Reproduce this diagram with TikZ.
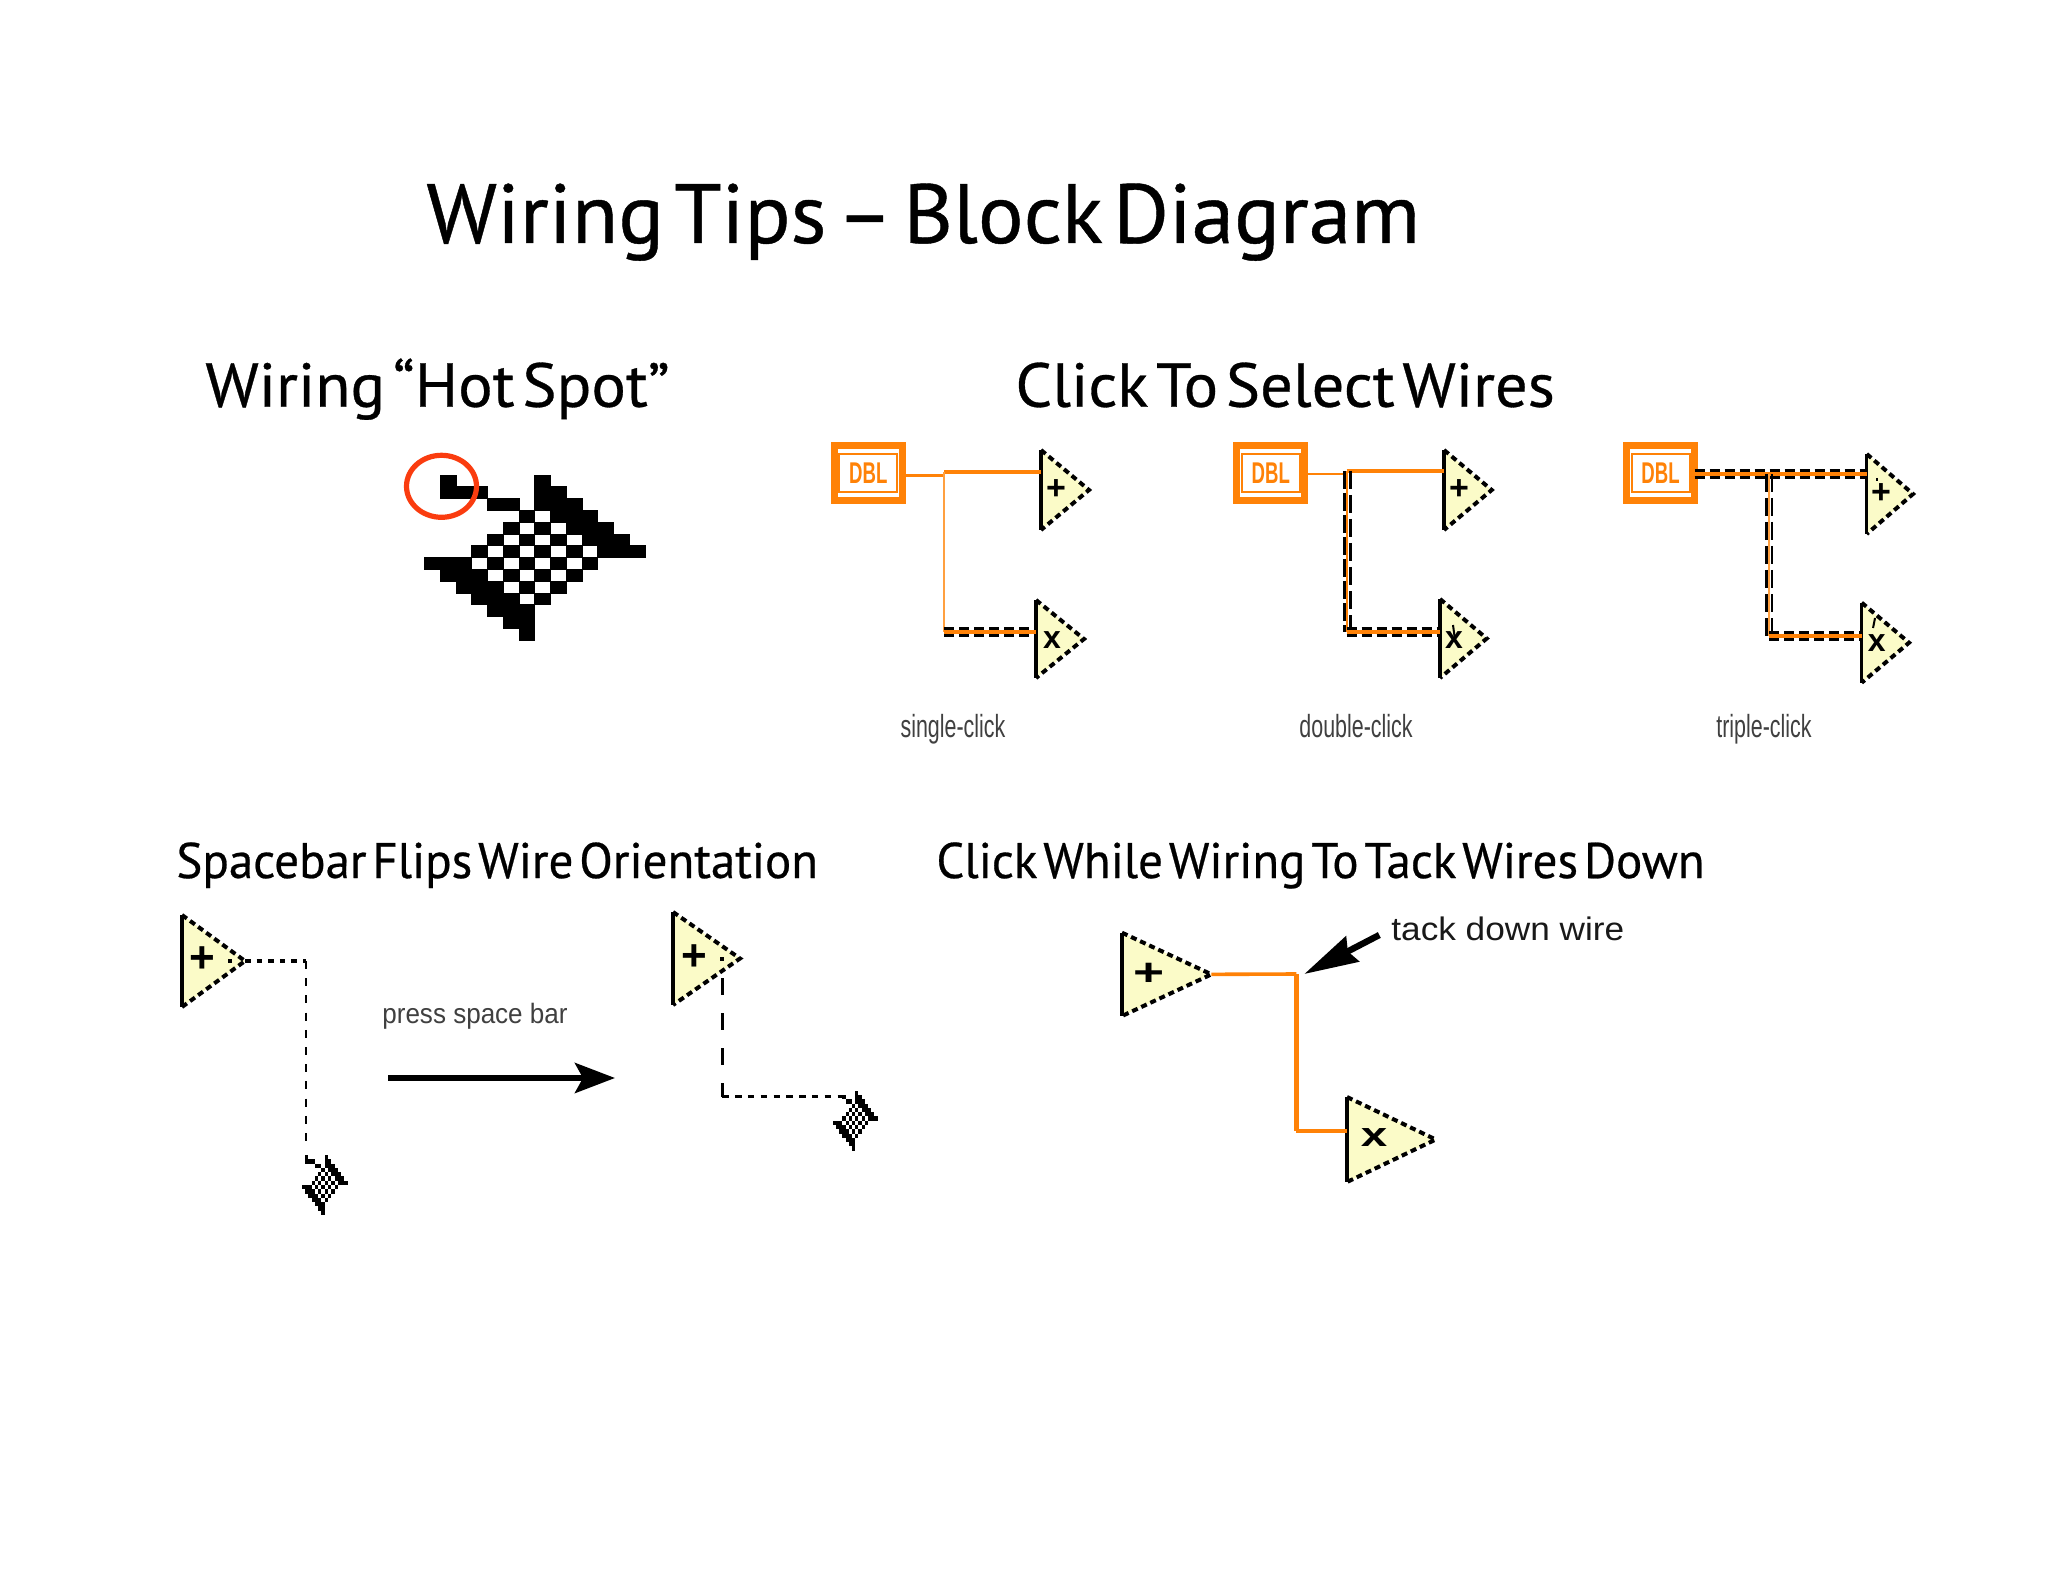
\documentclass[tikz,border=0pt]{standalone}
\usepackage{fontspec}
\usetikzlibrary{shapes.geometric,arrows.meta}
\setmainfont{Liberation Sans}
\newfontfamily\headaf[FakeStretch=1.015,FakeBold=0.5,WordSpace=0.45]{PT Sans}
\newfontfamily\headbf[FakeStretch=1.04,FakeBold=0.5,WordSpace=0.45]{PT Sans}
\newfontfamily\headcf[FakeStretch=0.98,FakeBold=0.5,WordSpace=0.45]{PT Sans}
\newfontfamily\narrowf[FakeStretch=0.67]{Liberation Sans}
\newfontfamily\pressf[FakeStretch=0.93]{Liberation Sans}
\newfontfamily\tackf[FakeStretch=1.08]{Liberation Sans}
\newfontfamily\dblf[FakeStretch=0.62]{Liberation Sans Bold}
\newfontfamily\symf{Liberation Sans Bold}
\newfontfamily\symwf[FakeStretch=1.4]{Liberation Sans Bold}
\definecolor{wireO}{HTML}{FF8207}
\definecolor{wireL}{HTML}{FFA040}
\definecolor{triY}{HTML}{FBFBC8}
\definecolor{hotR}{HTML}{FA3C0F}
\tikzset{
  headA/.style={inner sep=0,anchor=base west,font=\headaf\fontsize{42}{46}\selectfont,text=black},
  headB/.style={inner sep=0,anchor=base west,font=\headbf\fontsize{31}{34}\selectfont,text=black},
  headC/.style={inner sep=0,anchor=base west,font=\headcf\fontsize{25}{28}\selectfont,text=black},
  clicklab/.style={inner sep=0,anchor=base,font=\narrowf\fontsize{16}{18}\selectfont,text=black!75},
  wire/.style={draw=wireO,line width=1.8pt},
  thinwire/.style={draw=wireL,line width=1.1pt},
  sel/.style={draw=black,line width=1.4pt,dash pattern=on 5pt off 2.5pt},
  edge/.style={draw=black,line width=2pt,dash pattern=on 3pt off 2pt},
  base/.style={draw=black,line width=1.7pt},
  dblbox/.style={draw=wireO,line width=3.5pt,minimum width=34pt,minimum height=27.5pt,inner sep=0,outer sep=0,fill=white},
  dblin/.style={draw=wireO,line width=1pt,minimum width=29pt,minimum height=19pt,inner sep=0,outer sep=0,text=wireO,font=\dblf\fontsize{15}{16}\selectfont},
  gly/.style={inner sep=0,text=black,font=\symf\fontsize{#1}{#1}\selectfont},
  wgly/.style={inner sep=0,text=black,font=\symwf\fontsize{#1}{#1}\selectfont},
  dotted wire/.style={draw=black,line width=1.7pt,dash pattern=on 2.8pt off 3pt},
  dashed wire/.style={draw=black,line width=1.3pt,dash pattern=on 4pt off 4.6pt},
  long wire/.style={draw=black,line width=1.3pt,dash pattern=on 8.5pt off 9pt},
  flat wire/.style={draw=black,line width=1.3pt,dash pattern=on 3.2pt off 3.2pt},
  pointer/.style={draw=black,line width=3pt,-{Stealth[length=20pt,width=15pt,inset=4pt]}},
  hotdot/.style={fill=black,inner sep=0,minimum size=2pt,outer sep=0},
  speck/.style={draw=black,line width=1pt},
  bigcell/.style={fill=black,draw=black,line width=.1pt},
  smallcell/.style={fill=black}
}
% triangle: name, x of base, x of apex, y top, y bottom
\newcommand{\tribox}[5]{%
  \pgfmathsetmacro{\tw}{(#3-#2)*0.5}\pgfmathsetmacro{\th}{(#5-#4)*0.5}\pgfmathsetmacro{\tm}{(#4+#5)/2}%
  \node[isosceles triangle,isosceles triangle stretches,shape border rotate=0,anchor=lower side,
        minimum height=\tw pt,minimum width=\th pt,inner sep=0,outer sep=0,fill=triY] (#1) at (#2,\tm) {};
  \draw[edge] (#1.left corner) -- (#1.apex) -- (#1.right corner);
  \draw[base] (#1.left corner) -- (#1.right corner);
}
\newcommand{\cursorcells}[6][bigcell]{%
  \foreach \r/\a/\b in #6{
    \path[#1] (#2+\a*#4,#3+\r*#5) rectangle (#2+\b*#4+#4,#3+\r*#5+#5);
  }}
\def\curBody{0/7/7,1/7/8,2/4/5,2/7/9,3/6/6,3/8/10,4/5/5,4/7/7,4/9/11,5/4/4,5/6/6,5/8/8,5/10/12,6/3/3,6/5/5,6/7/7,6/9/9,6/11/13,7/0/2,7/4/4,7/6/6,7/8/8,7/10/10,8/1/3,8/5/5,8/7/7,8/9/9,9/2/4,9/6/6,9/8/8,10/3/5,10/7/7,11/4/6,12/5/6,13/6/6}
\edef\curFull{0/1/1,1/1/3,\curBody}
\edef\curCut{1/3/3,\curBody}
\begin{document}
\begin{tikzpicture}[x=0.5pt,y=-0.5pt]
\useasboundingbox[fill=white] (0,0) rectangle (2048,1582);
% headings
\node[headA] (title) at (426,243) {Wiring Tips – Block Diagram};
\node[headB] (h1) at (205,406.7) {Wiring “Hot Spot”};
\node[headB] (h2) at (1015,406.7) {Click To Select Wires};
\node[headC] (h3) at (176,878) {Spacebar Flips Wire Orientation};
\node[headC] (h4) at (936,878) {Click While Wiring To Tack Wires Down};
% hot spot cursor
\cursorcells{424.3}{474.7}{15.75}{11.8}{\curFull}
\node[ellipse,draw=hotR,line width=2.6pt,minimum width=35pt,minimum height=31pt,inner sep=0,outer sep=0] (hot) at (441.5,486.3) {};
% single click
\node[dblbox] (d1) at (868.3,473.3) {};
\node[dblin] (d1t) at (868.3,473.5) {DBL};
\tribox{a1}{1041}{1089}{450}{530}
\tribox{a2}{1036}{1084}{600}{678}
\node[gly=17] (a1s) at (1056,490) {+};
\node[gly=16] (a2s) at (1052,640) {x};
\coordinate (a3) at (944,475.7);
\coordinate (a4) at (944,472);
\coordinate (a5) at (944,631.7);
\draw[wire] (d1.east |- a3) -- (a3);
\draw[wire,line width=1.6pt] (a4) -- (a1.lower side |- a4);
\draw[thinwire] (a4) -- (a5);
\draw[sel] ([yshift=1.7pt]a5) -- ([yshift=1.7pt]a2.lower side |- a5);
\draw[sel] ([yshift=-1.7pt]a5) -- ([yshift=-1.7pt]a2.lower side |- a5);
\draw[wire] (a5) -- (a2.lower side |- a5);
\node[clicklab] (l1) at (953,737) {single-click};
% double click
\node[dblbox] (d2) at (1270.8,473.3) {};
\node[dblin] (d2t) at (1270.8,473.5) {DBL};
\tribox{b1}{1444}{1491.7}{450}{530}
\tribox{b2}{1440}{1486.7}{599}{678}
\node[gly=17] (b1s) at (1459,490) {+};
\node[gly=16] (b2s) at (1454,640) {x};
\draw[speck] (1453,625) -- (1455,640);
\coordinate (b3) at (1346.7,474);
\coordinate (b4) at (1346.7,471);
\coordinate (b5) at (1346.7,631.7);
\draw[wire,line width=1.4pt] (d2.east |- b3) -- (b3);
\draw[wire,line width=1.9pt] (b4) -- (b1.lower side |- b4);
\draw[sel,dash pattern=on 9pt off 2pt] ([xshift=-1pt]b4) -- ([xshift=-1pt]b5);
\draw[sel,dash pattern=on 9pt off 3pt] ([xshift=2pt]b4) -- ([xshift=2pt]b5);
\draw[wire,line width=1.1pt] (b4) -- (b5);
\draw[sel] ([yshift=1.7pt]b5) -- ([yshift=1.7pt]b2.lower side |- b5);
\draw[sel] ([yshift=-1.7pt]b5) -- ([yshift=-1.7pt]b2.lower side |- b5);
\draw[wire] (b5) -- (b2.lower side |- b5);
\node[clicklab] (l2) at (1356,737) {double-click};
% triple click
\node[dblbox] (d3) at (1660.5,473.3) {};
\node[dblin] (d3t) at (1660.5,473.5) {DBL};
\tribox{c1}{1866.7}{1913}{454}{534}
\tribox{c2}{1861.7}{1909}{602.7}{682.7}
\node[gly=17] (c1s) at (1881,494) {+};
\node[gly=16] (c2s) at (1876.7,643) {x};
\draw[speck] (1873,628) -- (1875,618);
\draw[speck] (1877,478) -- (1877,481);
\coordinate (c3) at (1769.3,474);
\coordinate (c5) at (1769.3,635.7);
\draw[sel] ([yshift=1.9pt]d3.east |- c3) -- ([yshift=1.9pt]c1.lower side |- c3);
\draw[sel] ([yshift=-1.9pt]d3.east |- c3) -- ([yshift=-1.9pt]c1.lower side |- c3);
\draw[wire] (d3.east |- c3) -- (c1.lower side |- c3);
\draw[sel,dash pattern=on 9pt off 3pt] ([xshift=-1.3pt]c3) -- ([xshift=-1.3pt]c5);
\draw[sel,dash pattern=on 9pt off 3pt] ([xshift=1.3pt]c3) -- ([xshift=1.3pt]c5);
\draw[thinwire] (c3) -- (c5);
\draw[sel] ([yshift=1.7pt]c5) -- ([yshift=1.7pt]c2.lower side |- c5);
\draw[sel] ([yshift=-1.7pt]c5) -- ([yshift=-1.7pt]c2.lower side |- c5);
\draw[wire] (c5) -- (c2.lower side |- c5);
\node[clicklab] (l3) at (1764,737) {triple-click};
% spacebar, first state
\tribox{s1}{182}{245}{915}{1007}
\node[gly=22] (s1s) at (202,960) {+};
\node[hotdot] (s1d) at (230,961) {};
\coordinate (s2) at (306,961);
\coordinate (s3) at (306,1150);
\draw[dotted wire] (s1.apex) -- (s2);
\draw[dashed wire] (s2) -- (s3);
\cursorcells[smallcell]{301.7}{1155}{3.29}{4.29}{\curFull}
\node[inner sep=0,anchor=base,font=\pressf\fontsize{14}{16}\selectfont,text=black!75] (press) at (475,1023) {press space bar};
\coordinate (p1) at (388,1078);
\coordinate (p2) at (615,1078);
\draw[pointer] (p1) -- (p2);
% spacebar, second state
\tribox{s4}{673}{740}{912}{1005}
\node[gly=22] (s4s) at (694,958) {+};
\node[hotdot] (s4d) at (722,959) {};
\coordinate (s5) at (722.3,978);
\coordinate (s6) at (722.3,1096.7);
\coordinate (s7) at (845,1096.7);
\draw[long wire] (s5) -- (s6);
\draw[flat wire] (s6) -- (s7);
\cursorcells[smallcell]{832.7}{1090.7}{3.21}{4.29}{\curCut}
% tack down
\tribox{k1}{1122}{1211.4}{932.7}{1016}
\tribox{k2}{1347}{1435.7}{1097}{1182}
\node[wgly=19] (k1s) at (1149,974) {+};
\node[wgly=17] (k2s) at (1374,1138) {x};
\coordinate (k3) at (1296.4,974);
\coordinate (k4) at (1296.4,1130.7);
\draw[wire] (k1.apex) -- (k3);
\draw[wire,line width=2.3pt] (k3) -- (k4);
\draw[wire] (k4) -- (k2.lower side |- k4);
\coordinate (m1) at (1379.3,935);
\coordinate (m2) at (1304.3,974);
\draw[draw=black,line width=3.2pt,-{Stealth[length=27pt,width=14pt,inset=2.5pt]}] (m1) -- (m2);
\node[inner sep=0,anchor=base west,font=\tackf\fontsize{16.3}{18}\selectfont,text=black!90] (tack) at (1391,940.7) {tack down wire};
\end{tikzpicture}
\end{document}
